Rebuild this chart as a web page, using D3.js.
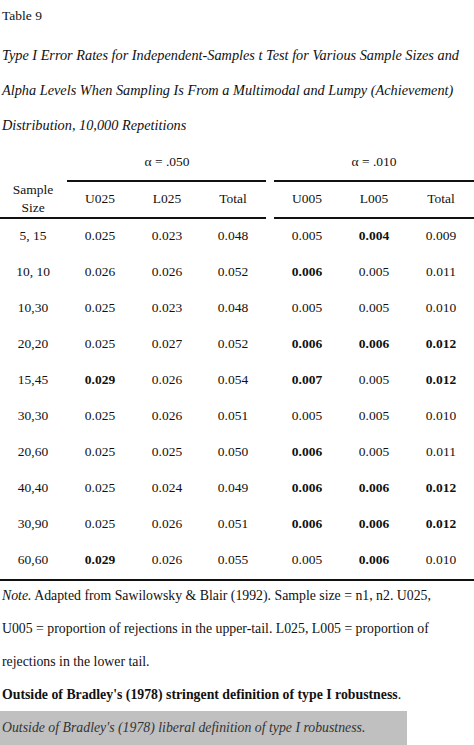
<!DOCTYPE html>
<html><head><meta charset="utf-8">
<script src="https://cdn.jsdelivr.net/npm/d3@7"></script>
<style>body{margin:0;background:#fff}text{font-family:"Liberation Serif","Times New Roman",serif;fill:#111}</style>
</head><body><svg id="t" width="474" height="745"></svg>
<script>
var sampleSizes = ["5, 15","10, 10","10,30","20,20","15,45","30,30","20,60","40,40","30,90","60,60"];
var u025 = ["0.025","0.026","0.025","0.025","0.029","0.025","0.025","0.025","0.025","0.029"];
var l025 = ["0.023","0.026","0.023","0.027","0.026","0.026","0.025","0.024","0.026","0.026"];
var total050 = ["0.048","0.052","0.048","0.052","0.054","0.051","0.050","0.049","0.051","0.055"];
var u005 = ["0.005","0.006","0.005","0.006","0.007","0.005","0.006","0.006","0.006","0.005"];
var l005 = ["0.004","0.005","0.005","0.006","0.005","0.005","0.005","0.006","0.006","0.006"];
var total010 = ["0.009","0.011","0.010","0.012","0.012","0.010","0.011","0.012","0.012","0.010"];
// bold flags per column (1 = outside stringent criterion)
var boldU025 = [0,0,0,0,1,0,0,0,0,1];
var boldU005 = [0,1,0,1,1,0,1,1,1,0];
var boldL005 = [1,0,0,1,0,0,0,1,1,1];
var boldT010 = [0,0,0,1,1,0,0,1,1,0];
var colLabels = ["U025","L025","Total","U005","L005","Total"];

var svg = d3.select("#t");
var xs = [33,100,167,233,307,374,441];
var y = d3.scaleLinear().domain([0,9]).range([237,561]);

function txt(px,py,s,o){o=o||{};return svg.append("text").attr("x",px).attr("y",py).attr("text-anchor",o.anchor||"start")
  .attr("dominant-baseline","middle").style("font-size",(o.size||13.5)+"px").style("font-weight",o.bold?"bold":null)
  .style("font-style",o.italic?"italic":null).text(s);}

txt(2,17,"Table 9");
txt(2,57,"Type I Error Rates for Independent-Samples t Test for Various Sample Sizes and",{italic:1,size:14.3});
txt(2,92,"Alpha Levels When Sampling Is From a Multimodal and Lumpy (Achievement)",{italic:1,size:14.3});
txt(2,127,"Distribution, 10,000 Repetitions",{italic:1,size:14.3});

txt(167,163,"α = .050",{anchor:"middle"});
txt(374,163,"α = .010",{anchor:"middle"});
function line(x1,x2,yy,w){svg.append("line").attr("x1",x1).attr("x2",x2).attr("y1",yy).attr("y2",yy).attr("stroke","#111").attr("stroke-width",w||2);}
line(67,266,181);line(274,474,181);
txt(33,191,"Sample",{anchor:"middle"});txt(33,209,"Size",{anchor:"middle"});
colLabels.forEach(function(c,i){txt(xs[i+1],200,c,{anchor:"middle"});});
line(0,266,218);line(274,474,218);

var cols=[[u025,boldU025],[l025,null],[total050,null],[u005,boldU005],[l005,boldL005],[total010,boldT010]];
sampleSizes.forEach(function(s,r){
  txt(xs[0],y(r),s,{anchor:"middle"});
  cols.forEach(function(c,i){txt(xs[i+1],y(r),c[0][r],{anchor:"middle",bold:c[1]&&c[1][r]});});
});
line(0,474,580);

var n=svg.append("text").attr("x",2).attr("y",597).attr("dominant-baseline","middle").style("font-size","13.8px");
n.append("tspan").style("font-style","italic").text("Note.");
n.append("tspan").text("  Adapted from Sawilowsky & Blair (1992). Sample size = n1, n2. U025,");
txt(2,630,"U005 = proportion of rejections in the upper-tail. L025, L005 = proportion of",{size:13.8});
txt(2,663,"rejections in the lower tail.",{size:13.8});
txt(2,696,"Outside of Bradley's (1978) stringent definition of type I robustness",{bold:1,size:13.8}).append("tspan").style("font-weight","normal").text(".");
svg.append("rect").attr("x",0).attr("y",711).attr("width",407).attr("height",34).attr("fill","#c0c0c0");
txt(2,729,"Outside of Bradley's (1978) liberal definition of type I robustness.",{italic:1,size:13.8}).style("fill","#333");
</script></body></html>
